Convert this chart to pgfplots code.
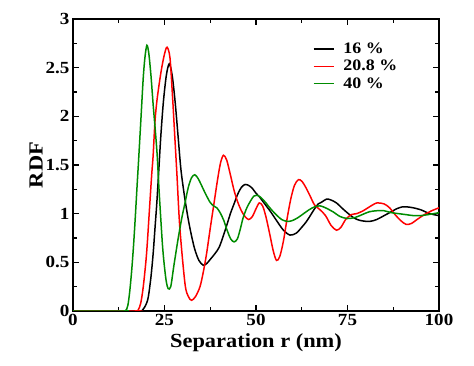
\documentclass[border=0pt]{standalone}
\usepackage{fontspec}
\setmainfont{Liberation Serif}[FakeStretch=1.12]
\usepackage{pgfplots}
\pgfplotsset{compat=1.18}
\definecolor{grgreen}{RGB}{0,140,0}
\newcommand{\tkfont}{\bfseries\fontsize{17}{17}\selectfont}
\begin{document}
\begin{tikzpicture}
\path[use as bounding box] (-73pt,-55pt) rectangle (401pt,311pt);
\begin{axis}[
  at={(0,0)}, anchor=south west,
  scale only axis, width=366pt, height=292pt,
  xmin=0, xmax=100, ymin=0, ymax=3,
  xtick={0,25,50,75,100}, ytick={0,0.5,1,1.5,2,2.5,3},
  xticklabels={0,25,50,75,100},
  yticklabels={0,0.5,1,1.5,2,2.5,3},
  xticklabel style={font=\tkfont},
  yticklabel style={font=\tkfont},
  minor x tick num=1, minor y tick num=1,
  tick align=inside,
  major tick length=6pt, minor tick length=4pt,
  tick style={line width=1.2pt, black},
  axis line style={line width=1.5pt},
  xlabel={Separation r (nm)}, ylabel={RDF},
  xlabel style={font=\bfseries\fontsize{20}{20}\selectfont, at={(axis description cs:0.5,-0.11)}, anchor=center},
  ylabel style={font=\bfseries\fontsize{20}{20}\selectfont, at={(axis description cs:-0.101,0.5)}, anchor=center},
  legend style={draw=none, fill=none, at={(axis description cs:0.655,0.925)}, anchor=north west,
    inner sep=0pt, row sep=1pt, font=\bfseries\fontsize{16}{16}\selectfont,
    /tikz/every odd column/.append style={column sep=7pt}},
  legend cell align=left,
  legend image code/.code={\draw[#1] (0pt,0pt) -- (20pt,0pt);},
  every axis plot/.append style={line width=1.5pt, smooth, tension=0.5},
]
\addplot[black] coordinates {
(0,0) (18,0) (19,0.01) (20,0.07) (20.6,0.15) (21.3,0.35) (21.9,0.59) (22.4,0.85) (22.9,1.11) (23.4,1.42) (24,1.8) (24.7,2.15) (25.5,2.42) (26.3,2.54) (27.1,2.42) (27.9,2.15) (28.7,1.8) (29.5,1.45) (30.5,1.17) (31.5,0.94) (32.4,0.77) (33.3,0.63) (34.4,0.52) (35.6,0.47) (36.6,0.49) (37.5,0.53) (38.8,0.59) (40,0.66) (41.5,0.82) (43,1.0) (44,1.1) (45,1.2) (46,1.27) (47,1.30) (48,1.29) (49,1.26) (50,1.21) (51,1.17) (52,1.12) (53,1.07) (54,1.02) (55.6,0.93) (57.5,0.83) (59.3,0.78) (61,0.80) (62.5,0.86) (63.8,0.92) (65,0.99) (66,1.05) (67,1.1) (68,1.12) (69.3,1.15) (70.5,1.14) (72,1.11) (74,1.04) (76.6,0.96) (78.5,0.93) (81,0.92) (83,0.94) (85,0.98) (87,1.02) (88.4,1.05) (90,1.07) (91.2,1.07) (93,1.06) (95,1.04) (97.5,1.0) (100,0.98)
};
\addlegendentry{16 \%}
\addplot[red] coordinates {
(0,0) (17,0) (17.8,0.01) (18.5,0.08) (19.2,0.25) (20.1,0.59) (21,1.11) (21.5,1.4) (21.9,1.6) (22.4,1.95) (22.9,2.15) (23.5,2.32) (24.2,2.49) (25,2.64) (25.7,2.71) (26.5,2.6) (27.2,2.2) (27.8,1.8) (28.4,1.4) (29.2,0.85) (30.6,0.28) (31.5,0.15) (32.4,0.11) (33.5,0.15) (34.7,0.25) (35.6,0.4) (36.5,0.59) (37.5,0.85) (38.5,1.1) (39.5,1.35) (40.3,1.52) (41.1,1.6) (42,1.55) (43,1.4) (44,1.24) (45,1.12) (46,1.03) (47,0.97) (48,0.94) (49,0.97) (50,1.05) (50.9,1.11) (51.8,1.08) (52.7,0.97) (53.7,0.8) (54.7,0.62) (55.6,0.52) (56.5,0.56) (57.5,0.72) (58.5,0.95) (59.5,1.15) (60.5,1.29) (61.6,1.35) (62.6,1.33) (63.6,1.27) (64.8,1.18) (66,1.09) (67.5,1.04) (69,0.98) (70.5,0.88) (72,0.83) (73.2,0.86) (74.5,0.94) (76,0.99) (77.5,1.0) (79.3,1.03) (81,1.07) (83,1.11) (85,1.1) (86.5,1.06) (88,0.99) (89.5,0.93) (91,0.89) (92.5,0.9) (94,0.94) (96,0.99) (98,1.03) (100,1.06)
};
\addlegendentry{20.8 \%}
\addplot[grgreen] coordinates {
(0,0) (14,0) (14.5,0.01) (15,0.06) (15.5,0.2) (16,0.4) (16.5,0.65) (17,0.95) (17.5,1.28) (18,1.6) (18.6,2.0) (19.2,2.4) (19.7,2.62) (20.2,2.73) (20.7,2.65) (21.3,2.42) (21.9,2.12) (22.5,1.85) (23,1.6) (23.5,1.25) (24,0.94) (24.5,0.65) (25,0.45) (25.5,0.3) (26,0.23) (26.7,0.25) (27.5,0.45) (28.2,0.62) (28.8,0.76) (29.7,0.95) (30.6,1.11) (31.5,1.27) (32.4,1.37) (33.3,1.40) (34.2,1.36) (35,1.3) (36,1.22) (37.4,1.12) (38.4,1.08) (39.3,1.06) (40.2,1.01) (41.2,0.93) (42.2,0.82) (43.1,0.74) (44,0.71) (44.9,0.74) (45.7,0.84) (46.5,0.96) (47.5,1.06) (48.5,1.13) (49.4,1.18) (50.2,1.19) (51.2,1.17) (52.5,1.12) (54,1.05) (55.5,0.99) (57,0.94) (58.6,0.92) (60,0.93) (61.5,0.96) (63,1.0) (64.5,1.04) (66,1.07) (67.5,1.08) (69,1.06) (71,1.02) (73,0.97) (75,0.95) (77,0.96) (79,0.99) (81,1.02) (83,1.03) (85,1.03) (87,1.01) (89,1.0) (91,0.99) (93,0.98) (95,0.98) (97,0.99) (100,1.01)
};
\addlegendentry{40 \%}
\end{axis}
\end{tikzpicture}
\end{document}
